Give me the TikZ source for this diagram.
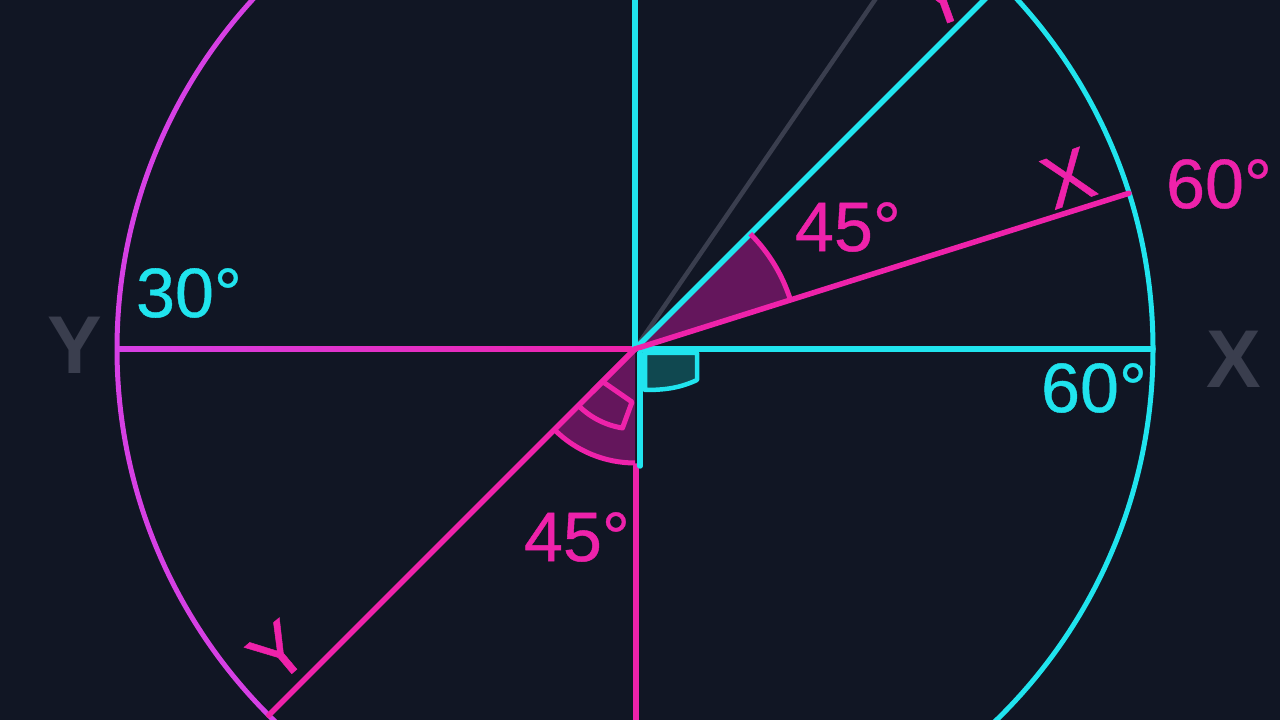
\documentclass[tikz,border=0pt]{standalone}
\usepackage{fontspec}
\setmainfont{Liberation Sans}
\newfontfamily\degfont[FakeBold=0.6]{Liberation Sans}
\usetikzlibrary{calc}
\definecolor{bg}{RGB}{17,22,36}
\definecolor{cy}{RGB}{32,228,238}
\definecolor{mg}{RGB}{238,34,170}
\definecolor{vi}{RGB}{214,64,228}
\definecolor{gr}{RGB}{58,62,78}
\definecolor{wedgefill}{RGB}{100,22,92}
\definecolor{tealfill}{RGB}{16,72,80}
\tikzset{
  deg/.style={font=\degfont\fontsize{70}{70}\selectfont, inner sep=0pt},
  axlbl/.style={font=\bfseries\fontsize{82}{82}\selectfont, inner sep=0pt, text=gr},
  seglbl/.style={font=\degfont\fontsize{74}{74}\selectfont, inner sep=0pt, text=mg},
  cline/.style={cy, line width=5.5pt, line cap=round},
  mline/.style={mg, line width=5.5pt, line cap=round},
  warc/.style={mg, line width=5pt},
}
\begin{document}
\begin{tikzpicture}[x=1pt,y=1pt]
\useasboundingbox (0,0) rectangle (1280,720);
\fill[bg] (0,0) rectangle (1280,720);
\begin{scope}
\clip (0,0) rectangle (1280,720);
\coordinate (C) at (635,371);
% fills
\fill[wedgefill] (C) -- ++(17.5:163) arc[start angle=17.5,end angle=45,radius=163] -- cycle;
\fill[wedgefill] (C) -- ++(225:114) arc[start angle=225,end angle=270,radius=114] -- cycle;
% gray line
\draw[gr, line width=4.5pt] (C) -- ++(55.5:470);
% circle
\draw[cy, line width=5pt] ($(C)+(-90:518)$) arc[start angle=-90,end angle=90,radius=518];
\draw[vi, line width=5pt] ($(C)+(90:518)$) arc[start angle=90,end angle=270,radius=518];
% lines
\shade[left color=vi, right color=mg] (117,368.2) rectangle (635,373.8);
\draw[cline] (640,371) -- (1153,371);
\draw[cline] (C) -- (635,900);
\draw[cline] (C) -- ++(45:560);
\draw[mline] (C) -- ++(17.5:518);
\draw[mline] (C) -- ++(225:518);
\draw[mline] (636,254) -- (636,-10);
% wedge arcs
\draw[warc] ($(C)+(17.5:163)$) arc[start angle=17.5,end angle=45,radius=163];
\draw[warc] ($(C)+(225:114)$) arc[start angle=225,end angle=270,radius=114];
\draw[warc, line join=round] ($(C)+(225:80)$) arc[start angle=225,end angle=261,radius=80] -- (632,318) -- ($(C)+(225:46)$);
% right angle marker
\draw[cy, line width=4.5pt, fill=tealfill, line join=round] (645,367) -- (697,367) -- (697,340) .. controls (680,332) and (665,330) .. (645,330) -- cycle;
\draw[cline] (640,367) -- (640,254);
\draw[mline] (C) -- ++(225:60);
% labels
\node[deg, text=mg] (a45u) at (848,493) {45°};
\node[deg, text=mg] (a60m) at (1219,536) {60°};
\node[deg, text=cy] (a60c) at (1094,332) {60°};
\node[deg, text=cy] (a30c) at (189,427) {30°};
\node[deg, text=mg] (a45l) at (577,183) {45°};
\node[axlbl] (axY) at (75,375) {Y};
\node[axlbl] (axX) at (1234,361) {X};
\node[seglbl, rotate=20] (sX) at (1068,542) {X};
\node[seglbl, rotate=40] (sYb) at (278,68) {Y};
\node[seglbl, rotate=20] (sYt) at (942,722) {Y};
\end{scope}
\end{tikzpicture}
\end{document}
